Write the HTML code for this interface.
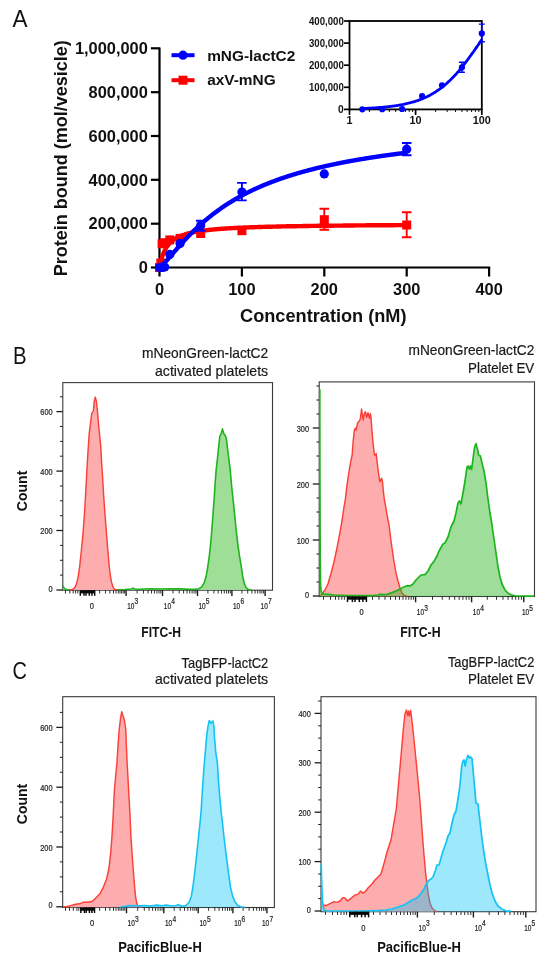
<!DOCTYPE html>
<html lang="en"><head><meta charset="utf-8"><title>Figure</title>
<style>html,body{margin:0;padding:0;background:#fff}body{width:550px;height:966px;overflow:hidden}svg{display:block}text{font-family:"Liberation Sans", sans-serif}</style>
</head><body>
<svg width="550" height="966" viewBox="0 0 550 966">
<rect width="550" height="966" fill="#fff"/>
<g id="panelA">
<text x="12.4" y="27" font-size="23" fill="#111" textLength="15" lengthAdjust="spacingAndGlyphs">A</text>
<path d="M159.5 47.4V268.5M158.5 267.5H490.2" stroke="#000" stroke-width="2.2" fill="none"/>
<path d="M150.9 48.3H159.5" stroke="#000" stroke-width="2.2"/>
<text x="147.8" y="54" font-size="16.4" font-weight="bold" text-anchor="end" fill="#111">1,000,000</text>
<path d="M150.9 92.2H159.5" stroke="#000" stroke-width="2.2"/>
<text x="147.8" y="97.9" font-size="16.4" font-weight="bold" text-anchor="end" fill="#111">800,000</text>
<path d="M150.9 136H159.5" stroke="#000" stroke-width="2.2"/>
<text x="147.8" y="141.7" font-size="16.4" font-weight="bold" text-anchor="end" fill="#111">600,000</text>
<path d="M150.9 179.8H159.5" stroke="#000" stroke-width="2.2"/>
<text x="147.8" y="185.5" font-size="16.4" font-weight="bold" text-anchor="end" fill="#111">400,000</text>
<path d="M150.9 223.7H159.5" stroke="#000" stroke-width="2.2"/>
<text x="147.8" y="229.4" font-size="16.4" font-weight="bold" text-anchor="end" fill="#111">200,000</text>
<path d="M150.9 267.5H159.5" stroke="#000" stroke-width="2.2"/>
<text x="147.8" y="273.2" font-size="16.4" font-weight="bold" text-anchor="end" fill="#111">0</text>
<path d="M159.5 267.5V276.5" stroke="#000" stroke-width="2.2"/>
<text x="159.5" y="295" font-size="16.4" font-weight="bold" text-anchor="middle" fill="#111">0</text>
<path d="M241.9 267.5V276.5" stroke="#000" stroke-width="2.2"/>
<text x="241.9" y="295" font-size="16.4" font-weight="bold" text-anchor="middle" fill="#111">100</text>
<path d="M324.3 267.5V276.5" stroke="#000" stroke-width="2.2"/>
<text x="324.3" y="295" font-size="16.4" font-weight="bold" text-anchor="middle" fill="#111">200</text>
<path d="M406.7 267.5V276.5" stroke="#000" stroke-width="2.2"/>
<text x="406.7" y="295" font-size="16.4" font-weight="bold" text-anchor="middle" fill="#111">300</text>
<path d="M489.1 267.5V276.5" stroke="#000" stroke-width="2.2"/>
<text x="489.1" y="295" font-size="16.4" font-weight="bold" text-anchor="middle" fill="#111">400</text>
<text x="323.3" y="321.6" font-size="18.3" font-weight="bold" text-anchor="middle" fill="#111" textLength="166.5" lengthAdjust="spacingAndGlyphs">Concentration (nM)</text>
<text transform="translate(67.2 158.3) rotate(-90)" font-size="18.8" font-weight="bold" text-anchor="middle" fill="#111" textLength="236" lengthAdjust="spacingAndGlyphs">Protein bound (mol/vesicle)</text>
<polyline points="159.5,267.5 159.9,265.4 160.3,263.5 160.7,261.8 161.1,260.2 161.6,258.7 162,257.4 162.4,256.1 162.8,255 163.2,253.9 163.6,252.9 164,251.9 164.4,251.1 164.9,250.2 165.3,249.5 165.7,248.7 166.1,248 166.5,247.4 166.9,246.7 167.3,246.1 167.7,245.6 168.2,245.1 168.6,244.5 169,244.1 169.4,243.6 169.8,243.2 170.2,242.7 170.6,242.3 171,241.9 171.4,241.6 171.9,241.2 172.3,240.9 172.7,240.5 173.1,240.2 173.5,239.9 173.9,239.6 174.3,239.3 174.7,239 175.2,238.8 175.6,238.5 176,238.3 176.4,238 176.8,237.8 177.2,237.6 177.6,237.4 178,237.2 178.5,237 178.9,236.8 179.3,236.6 179.7,236.4 180.1,236.2 180.5,236 180.9,235.8 181.3,235.7 181.7,235.5 182.2,235.4 182.6,235.2 183,235.1 183.4,234.9 183.8,234.8 184.2,234.6 184.6,234.5 185,234.4 185.5,234.2 185.9,234.1 186.3,234 186.7,233.9 187.1,233.7 187.5,233.6 187.9,233.5 188.3,233.4 188.8,233.3 189.2,233.2 189.6,233.1 190,233 190.4,232.9 190.8,232.8 191.2,232.7 191.6,232.6 192,232.5 192.5,232.4 192.9,232.3 193.3,232.3 193.7,232.2 194.1,232.1 194.5,232 194.9,231.9 195.3,231.9 195.8,231.8 196.2,231.7 196.6,231.6 197,231.6 197.4,231.5 197.8,231.4 198.2,231.4 198.6,231.3 199.1,231.2 199.5,231.2 199.9,231.1 200.3,231 200.7,231 201.1,230.9 201.5,230.9 201.9,230.8 202.3,230.7 202.8,230.7 203.2,230.6 203.6,230.6 204,230.5 204.4,230.5 204.8,230.4 205.2,230.4 205.6,230.3 206.1,230.3 206.5,230.2 206.9,230.2 207.3,230.1 207.7,230.1 208.1,230 208.5,230 208.9,229.9 209.4,229.9 209.8,229.8 210.2,229.8 210.6,229.8 211,229.7 211.4,229.7 211.8,229.6 212.2,229.6 212.6,229.6 213.1,229.5 213.5,229.5 213.9,229.4 214.3,229.4 214.7,229.4 215.1,229.3 215.5,229.3 215.9,229.3 216.4,229.2 216.8,229.2 217.2,229.1 217.6,229.1 218,229.1 218.4,229 218.8,229 219.2,229 219.7,229 220.1,228.9 220.5,228.9 220.9,228.9 221.3,228.8 221.7,228.8 222.1,228.8 222.5,228.7 222.9,228.7 223.4,228.7 223.8,228.7 224.2,228.6 224.6,228.6 225,228.6 225.4,228.5 225.8,228.5 226.2,228.5 226.7,228.5 227.1,228.4 227.5,228.4 227.9,228.4 228.3,228.4 228.7,228.3 229.1,228.3 229.5,228.3 230,228.3 230.4,228.2 230.8,228.2 231.2,228.2 231.6,228.2 232,228.1 232.4,228.1 232.8,228.1 233.2,228.1 233.7,228.1 234.1,228 234.5,228 234.9,228 235.3,228 235.7,227.9 236.1,227.9 236.5,227.9 237,227.9 237.4,227.9 237.8,227.8 238.2,227.8 238.6,227.8 239,227.8 239.4,227.8 239.8,227.7 240.3,227.7 240.7,227.7 241.1,227.7 241.5,227.7 241.9,227.7 242.3,227.6 242.7,227.6 243.1,227.6 243.5,227.6 244,227.6 244.4,227.5 244.8,227.5 245.2,227.5 245.6,227.5 246,227.5 246.4,227.5 246.8,227.4 247.3,227.4 247.7,227.4 248.1,227.4 248.5,227.4 248.9,227.4 249.3,227.4 249.7,227.3 250.1,227.3 250.6,227.3 251,227.3 251.4,227.3 251.8,227.3 252.2,227.2 252.6,227.2 253,227.2 253.4,227.2 253.8,227.2 254.3,227.2 254.7,227.2 255.1,227.1 255.5,227.1 255.9,227.1 256.3,227.1 256.7,227.1 257.1,227.1 257.6,227.1 258,227.1 258.4,227 258.8,227 259.2,227 259.6,227 260,227 260.4,227 260.9,227 261.3,227 261.7,226.9 262.1,226.9 262.5,226.9 262.9,226.9 263.3,226.9 263.7,226.9 264.1,226.9 264.6,226.9 265,226.8 265.4,226.8 265.8,226.8 266.2,226.8 266.6,226.8 267,226.8 267.4,226.8 267.9,226.8 268.3,226.8 268.7,226.7 269.1,226.7 269.5,226.7 269.9,226.7 270.3,226.7 270.7,226.7 271.2,226.7 271.6,226.7 272,226.7 272.4,226.7 272.8,226.6 273.2,226.6 273.6,226.6 274,226.6 274.4,226.6 274.9,226.6 275.3,226.6 275.7,226.6 276.1,226.6 276.5,226.6 276.9,226.5 277.3,226.5 277.7,226.5 278.2,226.5 278.6,226.5 279,226.5 279.4,226.5 279.8,226.5 280.2,226.5 280.6,226.5 281,226.5 281.5,226.4 281.9,226.4 282.3,226.4 282.7,226.4 283.1,226.4 283.5,226.4 283.9,226.4 284.3,226.4 284.7,226.4 285.2,226.4 285.6,226.4 286,226.4 286.4,226.3 286.8,226.3 287.2,226.3 287.6,226.3 288,226.3 288.5,226.3 288.9,226.3 289.3,226.3 289.7,226.3 290.1,226.3 290.5,226.3 290.9,226.3 291.3,226.2 291.8,226.2 292.2,226.2 292.6,226.2 293,226.2 293.4,226.2 293.8,226.2 294.2,226.2 294.6,226.2 295,226.2 295.5,226.2 295.9,226.2 296.3,226.2 296.7,226.2 297.1,226.1 297.5,226.1 297.9,226.1 298.3,226.1 298.8,226.1 299.2,226.1 299.6,226.1 300,226.1 300.4,226.1 300.8,226.1 301.2,226.1 301.6,226.1 302.1,226.1 302.5,226.1 302.9,226.1 303.3,226 303.7,226 304.1,226 304.5,226 304.9,226 305.3,226 305.8,226 306.2,226 306.6,226 307,226 307.4,226 307.8,226 308.2,226 308.6,226 309.1,226 309.5,226 309.9,225.9 310.3,225.9 310.7,225.9 311.1,225.9 311.5,225.9 311.9,225.9 312.4,225.9 312.8,225.9 313.2,225.9 313.6,225.9 314,225.9 314.4,225.9 314.8,225.9 315.2,225.9 315.6,225.9 316.1,225.9 316.5,225.9 316.9,225.9 317.3,225.8 317.7,225.8 318.1,225.8 318.5,225.8 318.9,225.8 319.4,225.8 319.8,225.8 320.2,225.8 320.6,225.8 321,225.8 321.4,225.8 321.8,225.8 322.2,225.8 322.7,225.8 323.1,225.8 323.5,225.8 323.9,225.8 324.3,225.8 324.7,225.8 325.1,225.7 325.5,225.7 325.9,225.7 326.4,225.7 326.8,225.7 327.2,225.7 327.6,225.7 328,225.7 328.4,225.7 328.8,225.7 329.2,225.7 329.7,225.7 330.1,225.7 330.5,225.7 330.9,225.7 331.3,225.7 331.7,225.7 332.1,225.7 332.5,225.7 333,225.7 333.4,225.7 333.8,225.6 334.2,225.6 334.6,225.6 335,225.6 335.4,225.6 335.8,225.6 336.2,225.6 336.7,225.6 337.1,225.6 337.5,225.6 337.9,225.6 338.3,225.6 338.7,225.6 339.1,225.6 339.5,225.6 340,225.6 340.4,225.6 340.8,225.6 341.2,225.6 341.6,225.6 342,225.6 342.4,225.6 342.8,225.6 343.3,225.6 343.7,225.5 344.1,225.5 344.5,225.5 344.9,225.5 345.3,225.5 345.7,225.5 346.1,225.5 346.5,225.5 347,225.5 347.4,225.5 347.8,225.5 348.2,225.5 348.6,225.5 349,225.5 349.4,225.5 349.8,225.5 350.3,225.5 350.7,225.5 351.1,225.5 351.5,225.5 351.9,225.5 352.3,225.5 352.7,225.5 353.1,225.5 353.6,225.5 354,225.5 354.4,225.4 354.8,225.4 355.2,225.4 355.6,225.4 356,225.4 356.4,225.4 356.8,225.4 357.3,225.4 357.7,225.4 358.1,225.4 358.5,225.4 358.9,225.4 359.3,225.4 359.7,225.4 360.1,225.4 360.6,225.4 361,225.4 361.4,225.4 361.8,225.4 362.2,225.4 362.6,225.4 363,225.4 363.4,225.4 363.9,225.4 364.3,225.4 364.7,225.4 365.1,225.4 365.5,225.4 365.9,225.4 366.3,225.3 366.7,225.3 367.1,225.3 367.6,225.3 368,225.3 368.4,225.3 368.8,225.3 369.2,225.3 369.6,225.3 370,225.3 370.4,225.3 370.9,225.3 371.3,225.3 371.7,225.3 372.1,225.3 372.5,225.3 372.9,225.3 373.3,225.3 373.7,225.3 374.2,225.3 374.6,225.3 375,225.3 375.4,225.3 375.8,225.3 376.2,225.3 376.6,225.3 377,225.3 377.4,225.3 377.9,225.3 378.3,225.3 378.7,225.3 379.1,225.3 379.5,225.3 379.9,225.2 380.3,225.2 380.7,225.2 381.2,225.2 381.6,225.2 382,225.2 382.4,225.2 382.8,225.2 383.2,225.2 383.6,225.2 384,225.2 384.5,225.2 384.9,225.2 385.3,225.2 385.7,225.2 386.1,225.2 386.5,225.2 386.9,225.2 387.3,225.2 387.7,225.2 388.2,225.2 388.6,225.2 389,225.2 389.4,225.2 389.8,225.2 390.2,225.2 390.6,225.2 391,225.2 391.5,225.2 391.9,225.2 392.3,225.2 392.7,225.2 393.1,225.2 393.5,225.2 393.9,225.2 394.3,225.2 394.8,225.2 395.2,225.2 395.6,225.1 396,225.1 396.4,225.1 396.8,225.1 397.2,225.1 397.6,225.1 398,225.1 398.5,225.1 398.9,225.1 399.3,225.1 399.7,225.1 400.1,225.1 400.5,225.1 400.9,225.1 401.3,225.1 401.8,225.1 402.2,225.1 402.6,225.1 403,225.1 403.4,225.1 403.8,225.1 404.2,225.1 404.6,225.1 405.1,225.1 405.5,225.1 405.9,225.1 406.3,225.1 406.7,225.1" fill="none" stroke="#ff0000" stroke-width="4.4" stroke-linejoin="round"/>
<rect x="155" y="263" width="9" height="9" fill="#ff0000"/>
<rect x="156.3" y="258.6" width="9" height="9" fill="#ff0000"/>
<rect x="157.6" y="239.3" width="9" height="9" fill="#ff0000"/>
<rect x="160.2" y="238.2" width="9" height="9" fill="#ff0000"/>
<rect x="165.3" y="235.4" width="9" height="9" fill="#ff0000"/>
<rect x="175.6" y="233.9" width="9" height="9" fill="#ff0000"/>
<rect x="196.2" y="229" width="9" height="9" fill="#ff0000"/>
<rect x="237.4" y="226.2" width="9" height="9" fill="#ff0000"/>
<path d="M324.3 208.8V229.8M319.5 208.8h9.6M319.5 229.8h9.6" stroke="#ff0000" stroke-width="1.9" fill="none"/>
<rect x="319.8" y="215.2" width="9" height="9" fill="#ff0000"/>
<path d="M406.7 212.3V237.3M401.9 212.3h9.6M401.9 237.3h9.6" stroke="#ff0000" stroke-width="1.9" fill="none"/>
<rect x="402.2" y="220.5" width="9" height="9" fill="#ff0000"/>
<polyline points="159.5,267.5 159.9,267.3 160.3,267 160.7,266.6 161.1,266.3 161.6,265.9 162,265.5 162.4,265.1 162.8,264.7 163.2,264.3 163.6,263.9 164,263.4 164.4,263 164.9,262.6 165.3,262.1 165.7,261.7 166.1,261.2 166.5,260.7 166.9,260.3 167.3,259.8 167.7,259.3 168.2,258.9 168.6,258.4 169,257.9 169.4,257.5 169.8,257 170.2,256.5 170.6,256 171,255.5 171.4,255.1 171.9,254.6 172.3,254.1 172.7,253.6 173.1,253.2 173.5,252.7 173.9,252.2 174.3,251.7 174.7,251.3 175.2,250.8 175.6,250.3 176,249.8 176.4,249.4 176.8,248.9 177.2,248.4 177.6,248 178,247.5 178.5,247 178.9,246.6 179.3,246.1 179.7,245.6 180.1,245.2 180.5,244.7 180.9,244.3 181.3,243.8 181.7,243.4 182.2,242.9 182.6,242.5 183,242 183.4,241.6 183.8,241.1 184.2,240.7 184.6,240.2 185,239.8 185.5,239.3 185.9,238.9 186.3,238.5 186.7,238 187.1,237.6 187.5,237.2 187.9,236.7 188.3,236.3 188.8,235.9 189.2,235.5 189.6,235.1 190,234.6 190.4,234.2 190.8,233.8 191.2,233.4 191.6,233 192,232.6 192.5,232.2 192.9,231.8 193.3,231.3 193.7,230.9 194.1,230.5 194.5,230.1 194.9,229.7 195.3,229.4 195.8,229 196.2,228.6 196.6,228.2 197,227.8 197.4,227.4 197.8,227 198.2,226.6 198.6,226.3 199.1,225.9 199.5,225.5 199.9,225.1 200.3,224.8 200.7,224.4 201.1,224 201.5,223.7 201.9,223.3 202.3,222.9 202.8,222.6 203.2,222.2 203.6,221.9 204,221.5 204.4,221.2 204.8,220.8 205.2,220.4 205.6,220.1 206.1,219.8 206.5,219.4 206.9,219.1 207.3,218.7 207.7,218.4 208.1,218 208.5,217.7 208.9,217.4 209.4,217 209.8,216.7 210.2,216.4 210.6,216.1 211,215.7 211.4,215.4 211.8,215.1 212.2,214.8 212.6,214.4 213.1,214.1 213.5,213.8 213.9,213.5 214.3,213.2 214.7,212.9 215.1,212.6 215.5,212.3 215.9,212 216.4,211.7 216.8,211.4 217.2,211 217.6,210.7 218,210.5 218.4,210.2 218.8,209.9 219.2,209.6 219.7,209.3 220.1,209 220.5,208.7 220.9,208.4 221.3,208.1 221.7,207.8 222.1,207.6 222.5,207.3 222.9,207 223.4,206.7 223.8,206.4 224.2,206.2 224.6,205.9 225,205.6 225.4,205.3 225.8,205.1 226.2,204.8 226.7,204.5 227.1,204.3 227.5,204 227.9,203.7 228.3,203.5 228.7,203.2 229.1,203 229.5,202.7 230,202.4 230.4,202.2 230.8,201.9 231.2,201.7 231.6,201.4 232,201.2 232.4,200.9 232.8,200.7 233.2,200.4 233.7,200.2 234.1,199.9 234.5,199.7 234.9,199.5 235.3,199.2 235.7,199 236.1,198.7 236.5,198.5 237,198.3 237.4,198 237.8,197.8 238.2,197.6 238.6,197.3 239,197.1 239.4,196.9 239.8,196.7 240.3,196.4 240.7,196.2 241.1,196 241.5,195.8 241.9,195.5 242.3,195.3 242.7,195.1 243.1,194.9 243.5,194.7 244,194.4 244.4,194.2 244.8,194 245.2,193.8 245.6,193.6 246,193.4 246.4,193.2 246.8,193 247.3,192.7 247.7,192.5 248.1,192.3 248.5,192.1 248.9,191.9 249.3,191.7 249.7,191.5 250.1,191.3 250.6,191.1 251,190.9 251.4,190.7 251.8,190.5 252.2,190.3 252.6,190.1 253,189.9 253.4,189.7 253.8,189.5 254.3,189.4 254.7,189.2 255.1,189 255.5,188.8 255.9,188.6 256.3,188.4 256.7,188.2 257.1,188 257.6,187.8 258,187.7 258.4,187.5 258.8,187.3 259.2,187.1 259.6,186.9 260,186.8 260.4,186.6 260.9,186.4 261.3,186.2 261.7,186 262.1,185.9 262.5,185.7 262.9,185.5 263.3,185.3 263.7,185.2 264.1,185 264.6,184.8 265,184.7 265.4,184.5 265.8,184.3 266.2,184.2 266.6,184 267,183.8 267.4,183.7 267.9,183.5 268.3,183.3 268.7,183.2 269.1,183 269.5,182.8 269.9,182.7 270.3,182.5 270.7,182.4 271.2,182.2 271.6,182 272,181.9 272.4,181.7 272.8,181.6 273.2,181.4 273.6,181.3 274,181.1 274.4,181 274.9,180.8 275.3,180.6 275.7,180.5 276.1,180.3 276.5,180.2 276.9,180 277.3,179.9 277.7,179.7 278.2,179.6 278.6,179.5 279,179.3 279.4,179.2 279.8,179 280.2,178.9 280.6,178.7 281,178.6 281.5,178.4 281.9,178.3 282.3,178.2 282.7,178 283.1,177.9 283.5,177.7 283.9,177.6 284.3,177.5 284.7,177.3 285.2,177.2 285.6,177.1 286,176.9 286.4,176.8 286.8,176.6 287.2,176.5 287.6,176.4 288,176.2 288.5,176.1 288.9,176 289.3,175.8 289.7,175.7 290.1,175.6 290.5,175.5 290.9,175.3 291.3,175.2 291.8,175.1 292.2,174.9 292.6,174.8 293,174.7 293.4,174.6 293.8,174.4 294.2,174.3 294.6,174.2 295,174.1 295.5,173.9 295.9,173.8 296.3,173.7 296.7,173.6 297.1,173.4 297.5,173.3 297.9,173.2 298.3,173.1 298.8,173 299.2,172.8 299.6,172.7 300,172.6 300.4,172.5 300.8,172.4 301.2,172.3 301.6,172.1 302.1,172 302.5,171.9 302.9,171.8 303.3,171.7 303.7,171.6 304.1,171.5 304.5,171.3 304.9,171.2 305.3,171.1 305.8,171 306.2,170.9 306.6,170.8 307,170.7 307.4,170.6 307.8,170.5 308.2,170.3 308.6,170.2 309.1,170.1 309.5,170 309.9,169.9 310.3,169.8 310.7,169.7 311.1,169.6 311.5,169.5 311.9,169.4 312.4,169.3 312.8,169.2 313.2,169.1 313.6,169 314,168.9 314.4,168.8 314.8,168.6 315.2,168.5 315.6,168.4 316.1,168.3 316.5,168.2 316.9,168.1 317.3,168 317.7,167.9 318.1,167.8 318.5,167.7 318.9,167.6 319.4,167.5 319.8,167.4 320.2,167.3 320.6,167.3 321,167.2 321.4,167.1 321.8,167 322.2,166.9 322.7,166.8 323.1,166.7 323.5,166.6 323.9,166.5 324.3,166.4 324.7,166.3 325.1,166.2 325.5,166.1 325.9,166 326.4,165.9 326.8,165.8 327.2,165.7 327.6,165.6 328,165.6 328.4,165.5 328.8,165.4 329.2,165.3 329.7,165.2 330.1,165.1 330.5,165 330.9,164.9 331.3,164.8 331.7,164.8 332.1,164.7 332.5,164.6 333,164.5 333.4,164.4 333.8,164.3 334.2,164.2 334.6,164.1 335,164.1 335.4,164 335.8,163.9 336.2,163.8 336.7,163.7 337.1,163.6 337.5,163.5 337.9,163.5 338.3,163.4 338.7,163.3 339.1,163.2 339.5,163.1 340,163 340.4,163 340.8,162.9 341.2,162.8 341.6,162.7 342,162.6 342.4,162.6 342.8,162.5 343.3,162.4 343.7,162.3 344.1,162.2 344.5,162.2 344.9,162.1 345.3,162 345.7,161.9 346.1,161.8 346.5,161.8 347,161.7 347.4,161.6 347.8,161.5 348.2,161.5 348.6,161.4 349,161.3 349.4,161.2 349.8,161.2 350.3,161.1 350.7,161 351.1,160.9 351.5,160.9 351.9,160.8 352.3,160.7 352.7,160.6 353.1,160.6 353.6,160.5 354,160.4 354.4,160.3 354.8,160.3 355.2,160.2 355.6,160.1 356,160.1 356.4,160 356.8,159.9 357.3,159.8 357.7,159.8 358.1,159.7 358.5,159.6 358.9,159.6 359.3,159.5 359.7,159.4 360.1,159.3 360.6,159.3 361,159.2 361.4,159.1 361.8,159.1 362.2,159 362.6,158.9 363,158.9 363.4,158.8 363.9,158.7 364.3,158.7 364.7,158.6 365.1,158.5 365.5,158.5 365.9,158.4 366.3,158.3 366.7,158.3 367.1,158.2 367.6,158.1 368,158.1 368.4,158 368.8,157.9 369.2,157.9 369.6,157.8 370,157.7 370.4,157.7 370.9,157.6 371.3,157.5 371.7,157.5 372.1,157.4 372.5,157.4 372.9,157.3 373.3,157.2 373.7,157.2 374.2,157.1 374.6,157 375,157 375.4,156.9 375.8,156.9 376.2,156.8 376.6,156.7 377,156.7 377.4,156.6 377.9,156.5 378.3,156.5 378.7,156.4 379.1,156.4 379.5,156.3 379.9,156.2 380.3,156.2 380.7,156.1 381.2,156.1 381.6,156 382,155.9 382.4,155.9 382.8,155.8 383.2,155.8 383.6,155.7 384,155.7 384.5,155.6 384.9,155.5 385.3,155.5 385.7,155.4 386.1,155.4 386.5,155.3 386.9,155.3 387.3,155.2 387.7,155.1 388.2,155.1 388.6,155 389,155 389.4,154.9 389.8,154.9 390.2,154.8 390.6,154.7 391,154.7 391.5,154.6 391.9,154.6 392.3,154.5 392.7,154.5 393.1,154.4 393.5,154.4 393.9,154.3 394.3,154.3 394.8,154.2 395.2,154.2 395.6,154.1 396,154 396.4,154 396.8,153.9 397.2,153.9 397.6,153.8 398,153.8 398.5,153.7 398.9,153.7 399.3,153.6 399.7,153.6 400.1,153.5 400.5,153.5 400.9,153.4 401.3,153.4 401.8,153.3 402.2,153.3 402.6,153.2 403,153.2 403.4,153.1 403.8,153.1 404.2,153 404.6,153 405.1,152.9 405.5,152.9 405.9,152.8 406.3,152.8 406.7,152.7" fill="none" stroke="#0000ff" stroke-width="4.4" stroke-linejoin="round"/>
<circle cx="159.5" cy="267.5" r="4.6" fill="#0000ff"/>
<circle cx="160.8" cy="267.4" r="4.6" fill="#0000ff"/>
<circle cx="162.1" cy="267.3" r="4.6" fill="#0000ff"/>
<circle cx="164.7" cy="267.1" r="4.6" fill="#0000ff"/>
<circle cx="169.8" cy="254.4" r="4.6" fill="#0000ff"/>
<circle cx="180.1" cy="243.6" r="4.6" fill="#0000ff"/>
<path d="M200.7 220.8V230.7M195.9 220.8h9.6M195.9 230.7h9.6" stroke="#0000ff" stroke-width="1.9" fill="none"/>
<circle cx="200.7" cy="225.6" r="4.6" fill="#0000ff"/>
<path d="M241.9 182.9V200.4M237.1 182.9h9.6M237.1 200.4h9.6" stroke="#0000ff" stroke-width="1.9" fill="none"/>
<circle cx="241.9" cy="192.1" r="4.6" fill="#0000ff"/>
<circle cx="324.3" cy="173.9" r="4.6" fill="#0000ff"/>
<path d="M406.7 143V155.3M401.9 143h9.6M401.9 155.3h9.6" stroke="#0000ff" stroke-width="1.9" fill="none"/>
<circle cx="406.7" cy="149.2" r="4.6" fill="#0000ff"/>
<path d="M171.5 55.2H194.5" stroke="#0000ff" stroke-width="4"/><circle cx="183" cy="55.2" r="4.6" fill="#0000ff"/>
<path d="M171.5 80.2H194.5" stroke="#ff0000" stroke-width="4"/><rect x="178.5" y="75.7" width="9" height="9" fill="#ff0000"/>
<text x="207.2" y="60.6" font-size="15.4" font-weight="bold" fill="#111">mNG-lactC2</text>
<text x="207.2" y="85.4" font-size="15.4" font-weight="bold" fill="#111">axV-mNG</text>
<rect x="349.5" y="21" width="132.3" height="88.4" fill="none" stroke="#000" stroke-width="1.8"/>
<path d="M344 21H349.5" stroke="#000" stroke-width="1.7"/>
<text x="343.8" y="24.8" font-size="10.5" font-weight="bold" text-anchor="end" fill="#111" textLength="34.8" lengthAdjust="spacingAndGlyphs">400,000</text>
<path d="M344 43.1H349.5" stroke="#000" stroke-width="1.7"/>
<text x="343.8" y="46.9" font-size="10.5" font-weight="bold" text-anchor="end" fill="#111" textLength="34.8" lengthAdjust="spacingAndGlyphs">300,000</text>
<path d="M344 65.2H349.5" stroke="#000" stroke-width="1.7"/>
<text x="343.8" y="69" font-size="10.5" font-weight="bold" text-anchor="end" fill="#111" textLength="34.8" lengthAdjust="spacingAndGlyphs">200,000</text>
<path d="M344 87.3H349.5" stroke="#000" stroke-width="1.7"/>
<text x="343.8" y="91.1" font-size="10.5" font-weight="bold" text-anchor="end" fill="#111" textLength="34.8" lengthAdjust="spacingAndGlyphs">100,000</text>
<path d="M344 109.4H349.5" stroke="#000" stroke-width="1.7"/>
<text x="343.8" y="113.2" font-size="10.5" font-weight="bold" text-anchor="end" fill="#111" textLength="5.7" lengthAdjust="spacingAndGlyphs">0</text>
<path d="M349.5 109.4V114.9" stroke="#000" stroke-width="1.7"/>
<text x="349.5" y="123.9" font-size="10.8" font-weight="bold" text-anchor="middle" fill="#111">1</text>
<path d="M369.4 109.4V111.9" stroke="#000" stroke-width="1"/>
<path d="M381.1 109.4V111.9" stroke="#000" stroke-width="1"/>
<path d="M389.3 109.4V111.9" stroke="#000" stroke-width="1"/>
<path d="M395.7 109.4V111.9" stroke="#000" stroke-width="1"/>
<path d="M401 109.4V111.9" stroke="#000" stroke-width="1"/>
<path d="M405.4 109.4V111.9" stroke="#000" stroke-width="1"/>
<path d="M409.2 109.4V111.9" stroke="#000" stroke-width="1"/>
<path d="M412.6 109.4V111.9" stroke="#000" stroke-width="1"/>
<path d="M415.6 109.4V114.9" stroke="#000" stroke-width="1.7"/>
<text x="415.6" y="123.9" font-size="10.8" font-weight="bold" text-anchor="middle" fill="#111">10</text>
<path d="M435.6 109.4V111.9" stroke="#000" stroke-width="1"/>
<path d="M447.2 109.4V111.9" stroke="#000" stroke-width="1"/>
<path d="M455.5 109.4V111.9" stroke="#000" stroke-width="1"/>
<path d="M461.9 109.4V111.9" stroke="#000" stroke-width="1"/>
<path d="M467.1 109.4V111.9" stroke="#000" stroke-width="1"/>
<path d="M471.6 109.4V111.9" stroke="#000" stroke-width="1"/>
<path d="M475.4 109.4V111.9" stroke="#000" stroke-width="1"/>
<path d="M478.8 109.4V111.9" stroke="#000" stroke-width="1"/>
<path d="M481.8 109.4V114.9" stroke="#000" stroke-width="1.7"/>
<text x="481.8" y="123.9" font-size="10.8" font-weight="bold" text-anchor="middle" fill="#111">100</text>
<polyline points="361.1,108.5 362.2,108.5 363.2,108.4 364.2,108.4 365.2,108.4 366.2,108.3 367.2,108.3 368.2,108.2 369.2,108.2 370.2,108.1 371.2,108.1 372.2,108 373.2,107.9 374.2,107.9 375.2,107.8 376.2,107.7 377.2,107.7 378.2,107.6 379.2,107.5 380.3,107.4 381.3,107.4 382.3,107.3 383.3,107.2 384.3,107.1 385.3,107 386.3,106.9 387.3,106.8 388.3,106.7 389.3,106.6 390.3,106.4 391.3,106.3 392.3,106.2 393.3,106.1 394.3,105.9 395.3,105.8 396.3,105.6 397.3,105.5 398.3,105.3 399.4,105.1 400.4,104.9 401.4,104.8 402.4,104.6 403.4,104.4 404.4,104.2 405.4,103.9 406.4,103.7 407.4,103.5 408.4,103.2 409.4,103 410.4,102.7 411.4,102.5 412.4,102.2 413.4,101.9 414.4,101.6 415.4,101.3 416.4,100.9 417.5,100.6 418.5,100.2 419.5,99.9 420.5,99.5 421.5,99.1 422.5,98.7 423.5,98.3 424.5,97.8 425.5,97.4 426.5,96.9 427.5,96.4 428.5,95.9 429.5,95.4 430.5,94.9 431.5,94.3 432.5,93.7 433.5,93.1 434.5,92.5 435.6,91.9 436.6,91.2 437.6,90.5 438.6,89.8 439.6,89.1 440.6,88.4 441.6,87.6 442.6,86.8 443.6,86 444.6,85.2 445.6,84.4 446.6,83.5 447.6,82.6 448.6,81.6 449.6,80.7 450.6,79.7 451.6,78.7 452.6,77.7 453.6,76.7 454.7,75.6 455.7,74.5 456.7,73.4 457.7,72.2 458.7,71.1 459.7,69.9 460.7,68.7 461.7,67.5 462.7,66.2 463.7,64.9 464.7,63.7 465.7,62.3 466.7,61 467.7,59.7 468.7,58.3 469.7,56.9 470.7,55.5 471.7,54.1 472.8,52.7 473.8,51.3 474.8,49.8 475.8,48.4 476.8,46.9 477.8,45.5 478.8,44 479.8,42.5 480.8,41 481.8,39.5" fill="none" stroke="#0000ff" stroke-width="2.8" stroke-linejoin="round"/>
<circle cx="362.3" cy="109.3" r="3.1" fill="#0000ff"/>
<circle cx="382.2" cy="109.2" r="3.1" fill="#0000ff"/>
<circle cx="402.1" cy="109" r="3.1" fill="#0000ff"/>
<circle cx="422.1" cy="96.1" r="3.1" fill="#0000ff"/>
<circle cx="442" cy="85.3" r="3.1" fill="#0000ff"/>
<path d="M461.9 62.3V72.3M458.9 62.3h6M458.9 72.3h6" stroke="#0000ff" stroke-width="1.4" fill="none"/>
<circle cx="461.9" cy="67.4" r="3.1" fill="#0000ff"/>
<path d="M481.8 24.1V41.8M478.8 24.1h6M478.8 41.8h6" stroke="#0000ff" stroke-width="1.4" fill="none"/>
<circle cx="481.8" cy="33.4" r="3.1" fill="#0000ff"/>
</g>
<g id="panelBL">
<rect x="62.8" y="382.6" width="209.7" height="207.6" fill="none" stroke="#3a3a3a" stroke-width="1.1"/>
<path d="M70 589.8 L70 590.2 L71 590 L72.6 589.4 L74.8 587.6 L76.5 583.8 L78.1 577.3 L79.7 566.4 L81.4 550 L83 533.6 L84.6 511.8 L85.7 493 L86.8 471.8 L88.1 450 L89.2 433.6 L90.6 422.7 L91.7 413.7 L92.6 412 L93.5 410.5 L94.2 401.5 L95.3 397.1 L96.4 401.2 L97.5 411.8 L98.6 424.9 L99.9 438 L100.8 446.7 L101.5 460.9 L102.6 477.3 L103.5 493 L104.8 511.8 L106.5 533.6 L107.8 550 L109.2 566.4 L110.3 575.1 L111.4 581.6 L113 587.1 L114.6 589.2 L116.8 590 L118.5 590.2 L118.5 589.8Z" fill="#fdadad" fill-opacity="1.0" stroke="none"/>
<path d="M70 590.2 L71 590 L72.6 589.4 L74.8 587.6 L76.5 583.8 L78.1 577.3 L79.7 566.4 L81.4 550 L83 533.6 L84.6 511.8 L85.7 493 L86.8 471.8 L88.1 450 L89.2 433.6 L90.6 422.7 L91.7 413.7 L92.6 412 L93.5 410.5 L94.2 401.5 L95.3 397.1 L96.4 401.2 L97.5 411.8 L98.6 424.9 L99.9 438 L100.8 446.7 L101.5 460.9 L102.6 477.3 L103.5 493 L104.8 511.8 L106.5 533.6 L107.8 550 L109.2 566.4 L110.3 575.1 L111.4 581.6 L113 587.1 L114.6 589.2 L116.8 590 L118.5 590.2" fill="none" stroke="#fa4038" stroke-width="1.45" stroke-linejoin="round"/>
<path d="M62.9 589.8 L62.9 585.8 L63.6 587.6 L64.8 589 L67 589.5 L70 589.8 L70 589.8Z" fill="#9fde97" fill-opacity="1.0" stroke="none"/>
<path d="M62.9 585.8 L63.6 587.6 L64.8 589 L67 589.5 L70 589.8" fill="none" stroke="#1eb41e" stroke-width="1.6" stroke-linejoin="round"/>
<path d="M117 589.8 L117 589.8 L125 589.5 L131 589 L133 588.2 L135 589 L140 589.3 L150 588.8 L160 589 L170 588.8 L180 588.9 L190 589.4 L194.7 589.4 L198.9 588.7 L201.8 586.9 L204.2 582.7 L206 576.8 L207.5 568.6 L208.9 559.1 L210.3 547.3 L211.9 529.6 L213 514.2 L214.2 498.5 L215.1 483.8 L216.2 469.6 L217.8 455.5 L219 443.6 L219.8 436.5 L221.3 433 L222.5 428.9 L223.7 433.6 L225.5 436 L226.4 438.9 L227.2 446 L228.4 455.5 L230.2 469.6 L231.4 483.8 L232.8 496.8 L234.5 513 L236.1 529.6 L237.9 544.9 L239.6 556.7 L241.4 567.4 L242.6 575.7 L244.1 582.7 L245.8 587.2 L247.9 589.4 L250.3 590 L252 590.2 L252 589.8Z" fill="#9fde97" fill-opacity="1.0" stroke="none"/>
<path d="M117 589.8 L125 589.5 L131 589 L133 588.2 L135 589 L140 589.3 L150 588.8 L160 589 L170 588.8 L180 588.9 L190 589.4 L194.7 589.4 L198.9 588.7 L201.8 586.9 L204.2 582.7 L206 576.8 L207.5 568.6 L208.9 559.1 L210.3 547.3 L211.9 529.6 L213 514.2 L214.2 498.5 L215.1 483.8 L216.2 469.6 L217.8 455.5 L219 443.6 L219.8 436.5 L221.3 433 L222.5 428.9 L223.7 433.6 L225.5 436 L226.4 438.9 L227.2 446 L228.4 455.5 L230.2 469.6 L231.4 483.8 L232.8 496.8 L234.5 513 L236.1 529.6 L237.9 544.9 L239.6 556.7 L241.4 567.4 L242.6 575.7 L244.1 582.7 L245.8 587.2 L247.9 589.4 L250.3 590 L252 590.2" fill="none" stroke="#1eb41e" stroke-width="1.6" stroke-linejoin="round"/>
<path d="M56.4 590H62.8" stroke="#1c1c1c" stroke-width="1.3"/>
<text x="52.6" y="591.5" font-size="8.4" text-anchor="end" fill="#1c1c1c" stroke="#1c1c1c" stroke-width="0.2" textLength="4.1" lengthAdjust="spacingAndGlyphs">0</text>
<path d="M56.4 530.5H62.8" stroke="#1c1c1c" stroke-width="1.3"/>
<text x="52.6" y="534" font-size="8.4" text-anchor="end" fill="#1c1c1c" stroke="#1c1c1c" stroke-width="0.2" textLength="12.3" lengthAdjust="spacingAndGlyphs">200</text>
<path d="M56.4 471.1H62.8" stroke="#1c1c1c" stroke-width="1.3"/>
<text x="52.6" y="474.6" font-size="8.4" text-anchor="end" fill="#1c1c1c" stroke="#1c1c1c" stroke-width="0.2" textLength="12.3" lengthAdjust="spacingAndGlyphs">400</text>
<path d="M56.4 411.6H62.8" stroke="#1c1c1c" stroke-width="1.3"/>
<text x="52.6" y="415.1" font-size="8.4" text-anchor="end" fill="#1c1c1c" stroke="#1c1c1c" stroke-width="0.2" textLength="12.3" lengthAdjust="spacingAndGlyphs">600</text>
<path d="M60 575.1H62.8" stroke="#1c1c1c" stroke-width="1"/>
<path d="M60 560.3H62.8" stroke="#1c1c1c" stroke-width="1"/>
<path d="M60 545.4H62.8" stroke="#1c1c1c" stroke-width="1"/>
<path d="M60 515.7H62.8" stroke="#1c1c1c" stroke-width="1"/>
<path d="M60 500.8H62.8" stroke="#1c1c1c" stroke-width="1"/>
<path d="M60 486H62.8" stroke="#1c1c1c" stroke-width="1"/>
<path d="M60 456.2H62.8" stroke="#1c1c1c" stroke-width="1"/>
<path d="M60 441.4H62.8" stroke="#1c1c1c" stroke-width="1"/>
<path d="M60 426.5H62.8" stroke="#1c1c1c" stroke-width="1"/>
<path d="M60 396.8H62.8" stroke="#1c1c1c" stroke-width="1"/>
<path d="M126.1 590.2V596" stroke="#1c1c1c" stroke-width="1.4"/>
<path d="M162.5 590.2V596" stroke="#1c1c1c" stroke-width="1.4"/>
<path d="M197.5 590.2V596" stroke="#1c1c1c" stroke-width="1.4"/>
<path d="M231.9 590.2V596" stroke="#1c1c1c" stroke-width="1.4"/>
<path d="M265.1 590.2V596" stroke="#1c1c1c" stroke-width="1.4"/>
<path d="M137.1 590.2V593.5" stroke="#1c1c1c" stroke-width="0.9"/>
<path d="M143.5 590.2V593.5" stroke="#1c1c1c" stroke-width="0.9"/>
<path d="M148 590.2V593.5" stroke="#1c1c1c" stroke-width="0.9"/>
<path d="M151.5 590.2V593.5" stroke="#1c1c1c" stroke-width="0.9"/>
<path d="M154.4 590.2V593.5" stroke="#1c1c1c" stroke-width="0.9"/>
<path d="M156.9 590.2V593.5" stroke="#1c1c1c" stroke-width="0.9"/>
<path d="M159 590.2V593.5" stroke="#1c1c1c" stroke-width="0.9"/>
<path d="M160.8 590.2V593.5" stroke="#1c1c1c" stroke-width="0.9"/>
<path d="M173 590.2V593.5" stroke="#1c1c1c" stroke-width="0.9"/>
<path d="M179.2 590.2V593.5" stroke="#1c1c1c" stroke-width="0.9"/>
<path d="M183.6 590.2V593.5" stroke="#1c1c1c" stroke-width="0.9"/>
<path d="M187 590.2V593.5" stroke="#1c1c1c" stroke-width="0.9"/>
<path d="M189.7 590.2V593.5" stroke="#1c1c1c" stroke-width="0.9"/>
<path d="M192.1 590.2V593.5" stroke="#1c1c1c" stroke-width="0.9"/>
<path d="M194.1 590.2V593.5" stroke="#1c1c1c" stroke-width="0.9"/>
<path d="M195.9 590.2V593.5" stroke="#1c1c1c" stroke-width="0.9"/>
<path d="M207.9 590.2V593.5" stroke="#1c1c1c" stroke-width="0.9"/>
<path d="M213.9 590.2V593.5" stroke="#1c1c1c" stroke-width="0.9"/>
<path d="M218.2 590.2V593.5" stroke="#1c1c1c" stroke-width="0.9"/>
<path d="M221.5 590.2V593.5" stroke="#1c1c1c" stroke-width="0.9"/>
<path d="M224.3 590.2V593.5" stroke="#1c1c1c" stroke-width="0.9"/>
<path d="M226.6 590.2V593.5" stroke="#1c1c1c" stroke-width="0.9"/>
<path d="M228.6 590.2V593.5" stroke="#1c1c1c" stroke-width="0.9"/>
<path d="M230.3 590.2V593.5" stroke="#1c1c1c" stroke-width="0.9"/>
<path d="M241.9 590.2V593.5" stroke="#1c1c1c" stroke-width="0.9"/>
<path d="M247.7 590.2V593.5" stroke="#1c1c1c" stroke-width="0.9"/>
<path d="M251.9 590.2V593.5" stroke="#1c1c1c" stroke-width="0.9"/>
<path d="M255.1 590.2V593.5" stroke="#1c1c1c" stroke-width="0.9"/>
<path d="M257.7 590.2V593.5" stroke="#1c1c1c" stroke-width="0.9"/>
<path d="M260 590.2V593.5" stroke="#1c1c1c" stroke-width="0.9"/>
<path d="M261.9 590.2V593.5" stroke="#1c1c1c" stroke-width="0.9"/>
<path d="M263.6 590.2V593.5" stroke="#1c1c1c" stroke-width="0.9"/>
<path d="M65.5 590.2V593.5" stroke="#1c1c1c" stroke-width="0.9"/>
<path d="M69.8 590.2V593.5" stroke="#1c1c1c" stroke-width="0.9"/>
<path d="M73.2 590.2V593.5" stroke="#1c1c1c" stroke-width="0.9"/>
<path d="M75.6 590.2V593.5" stroke="#1c1c1c" stroke-width="0.9"/>
<path d="M77.8 590.2V593.5" stroke="#1c1c1c" stroke-width="0.9"/>
<path d="M99.6 590.2V593.5" stroke="#1c1c1c" stroke-width="0.9"/>
<path d="M105.5 590.2V593.5" stroke="#1c1c1c" stroke-width="0.9"/>
<path d="M109.8 590.2V593.5" stroke="#1c1c1c" stroke-width="0.9"/>
<path d="M113.5 590.2V593.5" stroke="#1c1c1c" stroke-width="0.9"/>
<path d="M116 590.2V593.5" stroke="#1c1c1c" stroke-width="0.9"/>
<path d="M118.3 590.2V593.5" stroke="#1c1c1c" stroke-width="0.9"/>
<path d="M120 590.2V593.5" stroke="#1c1c1c" stroke-width="0.9"/>
<path d="M121.7 590.2V593.5" stroke="#1c1c1c" stroke-width="0.9"/>
<path d="M123.2 590.2V593.5" stroke="#1c1c1c" stroke-width="0.9"/>
<path d="M124.6 590.2V593.5" stroke="#1c1c1c" stroke-width="0.9"/>
<rect x="80" y="590.2" width="15" height="3.2" fill="#0a0a0a"/>
<path d="M80.3 590.2V595.8" stroke="#0a0a0a" stroke-width="1.5"/>
<path d="M84 590.2V595.8" stroke="#0a0a0a" stroke-width="1.5"/>
<path d="M86 590.2V595.8" stroke="#0a0a0a" stroke-width="1.5"/>
<path d="M89.3 590.2V595.8" stroke="#0a0a0a" stroke-width="1.5"/>
<path d="M92 590.2V595.8" stroke="#0a0a0a" stroke-width="1.5"/>
<path d="M94.7 590.2V595.8" stroke="#0a0a0a" stroke-width="1.5"/>
<text x="91.9" y="609" font-size="8.4" text-anchor="middle" fill="#1c1c1c" stroke="#1c1c1c" stroke-width="0.2" textLength="4.2" lengthAdjust="spacingAndGlyphs">0</text>
<text x="127.2" y="609.1" font-size="8.4" fill="#1c1c1c" stroke="#1c1c1c" stroke-width="0.2" textLength="7.2" lengthAdjust="spacingAndGlyphs">10</text>
<text x="134.6" y="604.2" font-size="8.2" fill="#1c1c1c" stroke="#1c1c1c" stroke-width="0.2" textLength="3.7" lengthAdjust="spacingAndGlyphs">3</text>
<text x="163.8" y="609.1" font-size="8.4" fill="#1c1c1c" stroke="#1c1c1c" stroke-width="0.2" textLength="7.2" lengthAdjust="spacingAndGlyphs">10</text>
<text x="171.2" y="604.2" font-size="8.2" fill="#1c1c1c" stroke="#1c1c1c" stroke-width="0.2" textLength="3.7" lengthAdjust="spacingAndGlyphs">4</text>
<text x="198.4" y="609.1" font-size="8.4" fill="#1c1c1c" stroke="#1c1c1c" stroke-width="0.2" textLength="7.2" lengthAdjust="spacingAndGlyphs">10</text>
<text x="205.8" y="604.2" font-size="8.2" fill="#1c1c1c" stroke="#1c1c1c" stroke-width="0.2" textLength="3.7" lengthAdjust="spacingAndGlyphs">5</text>
<text x="233" y="609.1" font-size="8.4" fill="#1c1c1c" stroke="#1c1c1c" stroke-width="0.2" textLength="7.2" lengthAdjust="spacingAndGlyphs">10</text>
<text x="240.4" y="604.2" font-size="8.2" fill="#1c1c1c" stroke="#1c1c1c" stroke-width="0.2" textLength="3.7" lengthAdjust="spacingAndGlyphs">6</text>
<text x="260.6" y="609.1" font-size="8.4" fill="#1c1c1c" stroke="#1c1c1c" stroke-width="0.2" textLength="7.2" lengthAdjust="spacingAndGlyphs">10</text>
<text x="268" y="604.2" font-size="8.2" fill="#1c1c1c" stroke="#1c1c1c" stroke-width="0.2" textLength="3.7" lengthAdjust="spacingAndGlyphs">7</text>
<text x="161.1" y="636.6" font-size="14.5" font-weight="bold" text-anchor="middle" fill="#111" textLength="39.6" lengthAdjust="spacingAndGlyphs">FITC-H</text>
<text transform="translate(27 490.9) rotate(-90)" font-size="15.3" font-weight="bold" text-anchor="middle" fill="#111" textLength="40.5" lengthAdjust="spacingAndGlyphs">Count</text>
<text x="268.2" y="357.8" font-size="13.9" text-anchor="end" fill="#1a1a1a" stroke="#1a1a1a" stroke-width="0.2" textLength="126.2" lengthAdjust="spacingAndGlyphs">mNeonGreen-lactC2</text>
<text x="268.2" y="376.2" font-size="13.9" text-anchor="end" fill="#1a1a1a" stroke="#1a1a1a" stroke-width="0.2" textLength="113.2" lengthAdjust="spacingAndGlyphs">activated platelets</text>
<text x="13.1" y="363.6" font-size="23" fill="#111" textLength="13.6" lengthAdjust="spacingAndGlyphs">B</text>
</g>
<g id="panelBR">
<rect x="319.2" y="381.9" width="215.3" height="214.6" fill="none" stroke="#3a3a3a" stroke-width="1.1"/>
<path d="M320.6 596.2 L320.6 595.6 L322 593.4 L325 590 L328 583.8 L331 573.5 L334 562 L337 548 L339.5 535 L342 521 L344 507 L345.3 500 L346.7 487.3 L348.5 474.5 L350.4 463.6 L352.2 454.5 L353.1 441.8 L354.4 430 L355.3 428.2 L356.2 430 L357.6 422.7 L359.5 420.9 L360.4 418.2 L361.6 409.1 L363.1 420 L364.4 413.6 L365.3 411.8 L366.7 417.3 L368 412.7 L369.5 418.2 L370.4 413.6 L371.1 418.2 L371.8 429.1 L372.9 441.8 L374.4 454.5 L375.3 455.5 L376.2 453.6 L377.1 461.8 L378.4 472.7 L379.8 481.8 L381.6 478.2 L382.5 481.8 L383.5 492.7 L384.4 500 L385.6 506 L387 515 L389 525 L391 541 L393.6 559 L396 573 L398 581 L400 588 L402 593 L404.4 595.4 L407 596.2 L407 596.2Z" fill="#fdadad" fill-opacity="1.0" stroke="none"/>
<path d="M320.6 595.6 L322 593.4 L325 590 L328 583.8 L331 573.5 L334 562 L337 548 L339.5 535 L342 521 L344 507 L345.3 500 L346.7 487.3 L348.5 474.5 L350.4 463.6 L352.2 454.5 L353.1 441.8 L354.4 430 L355.3 428.2 L356.2 430 L357.6 422.7 L359.5 420.9 L360.4 418.2 L361.6 409.1 L363.1 420 L364.4 413.6 L365.3 411.8 L366.7 417.3 L368 412.7 L369.5 418.2 L370.4 413.6 L371.1 418.2 L371.8 429.1 L372.9 441.8 L374.4 454.5 L375.3 455.5 L376.2 453.6 L377.1 461.8 L378.4 472.7 L379.8 481.8 L381.6 478.2 L382.5 481.8 L383.5 492.7 L384.4 500 L385.6 506 L387 515 L389 525 L391 541 L393.6 559 L396 573 L398 581 L400 588 L402 593 L404.4 595.4 L407 596.2" fill="none" stroke="#fa4038" stroke-width="1.45" stroke-linejoin="round"/>
<path d="M319.8 596.2 L319.8 389.2 L319.9 480 L320.2 560 L320.6 586 L321.2 591.5 L322 593.6 L325 594.2 L328 594.4 L334 595 L341 595.3 L348 595.5 L358 595.6 L368 595.6 L374 595.3 L378 595 L380 594.2 L382 594.6 L387 594.4 L392 592.6 L396 591 L400 589 L403 587.4 L406 586 L408 585.6 L410 586 L413 584 L416 580 L418 578 L421 575 L425 574.6 L428 571 L431 565 L434 561.4 L437 556 L439 551 L443 544 L445 543 L448 537 L451 527 L454 521 L456 513 L458 503 L459.4 501 L461 504 L463 493 L465 481 L467 467 L468 466 L469.2 469 L470.4 466 L471.6 469.4 L473 459 L474.6 447 L476 443.6 L477.4 449 L478.6 455 L480.4 456 L482 463 L484 471 L486 483 L488 499 L490 513 L492 525 L494 539 L496 553 L498 567 L500 577 L502 584 L505 590 L508 593.2 L512 595.2 L516 596 L522 596.2 L534 596.2 L534 596.2Z" fill="#23b419" fill-opacity="0.44" stroke="none"/>
<path d="M319.8 389.2 L319.9 480 L320.2 560 L320.6 586 L321.2 591.5 L322 593.6 L325 594.2 L328 594.4 L334 595 L341 595.3 L348 595.5 L358 595.6 L368 595.6 L374 595.3 L378 595 L380 594.2 L382 594.6 L387 594.4 L392 592.6 L396 591 L400 589 L403 587.4 L406 586 L408 585.6 L410 586 L413 584 L416 580 L418 578 L421 575 L425 574.6 L428 571 L431 565 L434 561.4 L437 556 L439 551 L443 544 L445 543 L448 537 L451 527 L454 521 L456 513 L458 503 L459.4 501 L461 504 L463 493 L465 481 L467 467 L468 466 L469.2 469 L470.4 466 L471.6 469.4 L473 459 L474.6 447 L476 443.6 L477.4 449 L478.6 455 L480.4 456 L482 463 L484 471 L486 483 L488 499 L490 513 L492 525 L494 539 L496 553 L498 567 L500 577 L502 584 L505 590 L508 593.2 L512 595.2 L516 596 L522 596.2 L534 596.2" fill="none" stroke="#1eb41e" stroke-width="1.7" stroke-linejoin="round"/>
<path d="M312.8 596H319.2" stroke="#1c1c1c" stroke-width="1.3"/>
<text x="309" y="597.5" font-size="8.4" text-anchor="end" fill="#1c1c1c" stroke="#1c1c1c" stroke-width="0.2" textLength="4.1" lengthAdjust="spacingAndGlyphs">0</text>
<path d="M312.8 540H319.2" stroke="#1c1c1c" stroke-width="1.3"/>
<text x="309" y="543.5" font-size="8.4" text-anchor="end" fill="#1c1c1c" stroke="#1c1c1c" stroke-width="0.2" textLength="12.3" lengthAdjust="spacingAndGlyphs">100</text>
<path d="M312.8 484H319.2" stroke="#1c1c1c" stroke-width="1.3"/>
<text x="309" y="487.5" font-size="8.4" text-anchor="end" fill="#1c1c1c" stroke="#1c1c1c" stroke-width="0.2" textLength="12.3" lengthAdjust="spacingAndGlyphs">200</text>
<path d="M312.8 428H319.2" stroke="#1c1c1c" stroke-width="1.3"/>
<text x="309" y="431.5" font-size="8.4" text-anchor="end" fill="#1c1c1c" stroke="#1c1c1c" stroke-width="0.2" textLength="12.3" lengthAdjust="spacingAndGlyphs">300</text>
<path d="M316.4 582H319.2" stroke="#1c1c1c" stroke-width="1"/>
<path d="M316.4 568H319.2" stroke="#1c1c1c" stroke-width="1"/>
<path d="M316.4 554H319.2" stroke="#1c1c1c" stroke-width="1"/>
<path d="M316.4 526H319.2" stroke="#1c1c1c" stroke-width="1"/>
<path d="M316.4 512H319.2" stroke="#1c1c1c" stroke-width="1"/>
<path d="M316.4 498H319.2" stroke="#1c1c1c" stroke-width="1"/>
<path d="M316.4 470H319.2" stroke="#1c1c1c" stroke-width="1"/>
<path d="M316.4 456H319.2" stroke="#1c1c1c" stroke-width="1"/>
<path d="M316.4 442H319.2" stroke="#1c1c1c" stroke-width="1"/>
<path d="M316.4 414H319.2" stroke="#1c1c1c" stroke-width="1"/>
<path d="M316.4 400H319.2" stroke="#1c1c1c" stroke-width="1"/>
<path d="M316.4 386H319.2" stroke="#1c1c1c" stroke-width="1"/>
<path d="M415.6 596.5V602.3" stroke="#1c1c1c" stroke-width="1.4"/>
<path d="M471.6 596.5V602.3" stroke="#1c1c1c" stroke-width="1.4"/>
<path d="M523.8 596.5V602.3" stroke="#1c1c1c" stroke-width="1.4"/>
<path d="M432.5 596.5V599.8" stroke="#1c1c1c" stroke-width="0.9"/>
<path d="M442.3 596.5V599.8" stroke="#1c1c1c" stroke-width="0.9"/>
<path d="M449.3 596.5V599.8" stroke="#1c1c1c" stroke-width="0.9"/>
<path d="M454.7 596.5V599.8" stroke="#1c1c1c" stroke-width="0.9"/>
<path d="M459.2 596.5V599.8" stroke="#1c1c1c" stroke-width="0.9"/>
<path d="M462.9 596.5V599.8" stroke="#1c1c1c" stroke-width="0.9"/>
<path d="M466.2 596.5V599.8" stroke="#1c1c1c" stroke-width="0.9"/>
<path d="M469 596.5V599.8" stroke="#1c1c1c" stroke-width="0.9"/>
<path d="M487.3 596.5V599.8" stroke="#1c1c1c" stroke-width="0.9"/>
<path d="M496.5 596.5V599.8" stroke="#1c1c1c" stroke-width="0.9"/>
<path d="M503 596.5V599.8" stroke="#1c1c1c" stroke-width="0.9"/>
<path d="M508.1 596.5V599.8" stroke="#1c1c1c" stroke-width="0.9"/>
<path d="M512.2 596.5V599.8" stroke="#1c1c1c" stroke-width="0.9"/>
<path d="M515.7 596.5V599.8" stroke="#1c1c1c" stroke-width="0.9"/>
<path d="M518.7 596.5V599.8" stroke="#1c1c1c" stroke-width="0.9"/>
<path d="M521.4 596.5V599.8" stroke="#1c1c1c" stroke-width="0.9"/>
<path d="M323.5 596.5V599.8" stroke="#1c1c1c" stroke-width="0.9"/>
<path d="M330.5 596.5V599.8" stroke="#1c1c1c" stroke-width="0.9"/>
<path d="M335.5 596.5V599.8" stroke="#1c1c1c" stroke-width="0.9"/>
<path d="M338.8 596.5V599.8" stroke="#1c1c1c" stroke-width="0.9"/>
<path d="M341.8 596.5V599.8" stroke="#1c1c1c" stroke-width="0.9"/>
<path d="M344.4 596.5V599.8" stroke="#1c1c1c" stroke-width="0.9"/>
<path d="M372.5 596.5V599.8" stroke="#1c1c1c" stroke-width="0.9"/>
<path d="M379 596.5V599.8" stroke="#1c1c1c" stroke-width="0.9"/>
<path d="M385 596.5V599.8" stroke="#1c1c1c" stroke-width="0.9"/>
<path d="M390.5 596.5V599.8" stroke="#1c1c1c" stroke-width="0.9"/>
<path d="M395.5 596.5V599.8" stroke="#1c1c1c" stroke-width="0.9"/>
<path d="M399.5 596.5V599.8" stroke="#1c1c1c" stroke-width="0.9"/>
<path d="M403 596.5V599.8" stroke="#1c1c1c" stroke-width="0.9"/>
<path d="M406 596.5V599.8" stroke="#1c1c1c" stroke-width="0.9"/>
<path d="M408.8 596.5V599.8" stroke="#1c1c1c" stroke-width="0.9"/>
<path d="M411.2 596.5V599.8" stroke="#1c1c1c" stroke-width="0.9"/>
<path d="M413.4 596.5V599.8" stroke="#1c1c1c" stroke-width="0.9"/>
<rect x="347.1" y="596.5" width="19.7" height="3.2" fill="#0a0a0a"/>
<path d="M347.5 596.5V602.1" stroke="#0a0a0a" stroke-width="1.5"/>
<path d="M352.4 596.5V602.1" stroke="#0a0a0a" stroke-width="1.5"/>
<path d="M355 596.5V602.1" stroke="#0a0a0a" stroke-width="1.5"/>
<path d="M359.3 596.5V602.1" stroke="#0a0a0a" stroke-width="1.5"/>
<path d="M362.9 596.5V602.1" stroke="#0a0a0a" stroke-width="1.5"/>
<path d="M366.4 596.5V602.1" stroke="#0a0a0a" stroke-width="1.5"/>
<text x="361.7" y="615.3" font-size="8.4" text-anchor="middle" fill="#1c1c1c" stroke="#1c1c1c" stroke-width="0.2" textLength="4.2" lengthAdjust="spacingAndGlyphs">0</text>
<text x="416.8" y="615.4" font-size="8.4" fill="#1c1c1c" stroke="#1c1c1c" stroke-width="0.2" textLength="7.2" lengthAdjust="spacingAndGlyphs">10</text>
<text x="424.2" y="610.5" font-size="8.2" fill="#1c1c1c" stroke="#1c1c1c" stroke-width="0.2" textLength="3.7" lengthAdjust="spacingAndGlyphs">3</text>
<text x="472.8" y="615.4" font-size="8.4" fill="#1c1c1c" stroke="#1c1c1c" stroke-width="0.2" textLength="7.2" lengthAdjust="spacingAndGlyphs">10</text>
<text x="480.2" y="610.5" font-size="8.2" fill="#1c1c1c" stroke="#1c1c1c" stroke-width="0.2" textLength="3.7" lengthAdjust="spacingAndGlyphs">4</text>
<text x="521.9" y="615.4" font-size="8.4" fill="#1c1c1c" stroke="#1c1c1c" stroke-width="0.2" textLength="7.2" lengthAdjust="spacingAndGlyphs">10</text>
<text x="529.3" y="610.5" font-size="8.2" fill="#1c1c1c" stroke="#1c1c1c" stroke-width="0.2" textLength="3.7" lengthAdjust="spacingAndGlyphs">5</text>
<text x="420.4" y="636.7" font-size="14.5" font-weight="bold" text-anchor="middle" fill="#111" textLength="40.4" lengthAdjust="spacingAndGlyphs">FITC-H</text>
<text x="534.3" y="354.5" font-size="13.9" text-anchor="end" fill="#1a1a1a" stroke="#1a1a1a" stroke-width="0.2" textLength="125.8" lengthAdjust="spacingAndGlyphs">mNeonGreen-lactC2</text>
<text x="534.3" y="373.3" font-size="13.9" text-anchor="end" fill="#1a1a1a" stroke="#1a1a1a" stroke-width="0.2" textLength="66.2" lengthAdjust="spacingAndGlyphs">Platelet EV</text>
</g>
<g id="panelCL">
<rect x="62.7" y="696.7" width="211.7" height="210.8" fill="none" stroke="#3a3a3a" stroke-width="1.1"/>
<path d="M62.9 907.2 L62.9 906.6 L65 906.7 L67.4 906.5 L71.5 905.4 L75.5 904.3 L79.6 903.8 L82.9 902.3 L87 902.2 L91.1 901.8 L93.6 900.2 L96.8 896.9 L100.1 893.6 L103.4 887.1 L106.6 878.9 L109.1 867.5 L110.7 852.7 L112 836 L113.2 815 L114.3 791.7 L115.6 776.9 L117 762.2 L118.1 744.2 L119.2 729.5 L120.6 718 L121.7 711.8 L123 715.5 L124.6 721.3 L125.8 729.5 L126.3 744.2 L127.1 762.2 L127.9 776.9 L128.7 791.7 L129.9 813 L130.9 836 L132 852.7 L133.2 869.1 L134.5 885.5 L135.6 896.9 L136.6 902.6 L137.7 905.4 L140.2 906.6 L142 907.2 L142 907.2Z" fill="#fdadad" fill-opacity="1.0" stroke="none"/>
<path d="M62.9 906.6 L65 906.7 L67.4 906.5 L71.5 905.4 L75.5 904.3 L79.6 903.8 L82.9 902.3 L87 902.2 L91.1 901.8 L93.6 900.2 L96.8 896.9 L100.1 893.6 L103.4 887.1 L106.6 878.9 L109.1 867.5 L110.7 852.7 L112 836 L113.2 815 L114.3 791.7 L115.6 776.9 L117 762.2 L118.1 744.2 L119.2 729.5 L120.6 718 L121.7 711.8 L123 715.5 L124.6 721.3 L125.8 729.5 L126.3 744.2 L127.1 762.2 L127.9 776.9 L128.7 791.7 L129.9 813 L130.9 836 L132 852.7 L133.2 869.1 L134.5 885.5 L135.6 896.9 L136.6 902.6 L137.7 905.4 L140.2 906.6 L142 907.2" fill="none" stroke="#fa4038" stroke-width="1.45" stroke-linejoin="round"/>
<path d="M119.7 907.2 L119.7 907.2 L124 906.6 L130.4 905.6 L135 905.7 L140 905.8 L144.4 905.5 L150.9 906 L156.4 905.1 L161.8 905.8 L166.2 905.1 L170.5 905.8 L176 905.5 L178.2 904.7 L182.5 906.2 L185.8 905.5 L189.1 902.5 L191.3 896.4 L192.8 887.6 L194.5 874.5 L196.7 854.9 L198.5 837.5 L200 823 L201.1 811.4 L202.1 795 L203.2 778.6 L204.4 762.3 L205.7 747.6 L206.8 734.5 L208 726.3 L209.3 720.5 L210.9 723.3 L212.9 720.9 L213.9 726.3 L214.5 737.7 L215.8 752.5 L217.5 763.9 L218.3 778.6 L219.6 795 L221.1 811.4 L222.6 824 L224 837.5 L226.2 854.9 L228.4 872.4 L230.6 887.6 L232.7 896.4 L234.9 901.8 L237.8 905.5 L241.5 907 L244.7 907.4 L244.7 907.2Z" fill="#00c3f5" fill-opacity="0.38" stroke="none"/>
<path d="M119.7 907.2 L124 906.6 L130.4 905.6 L135 905.7 L140 905.8 L144.4 905.5 L150.9 906 L156.4 905.1 L161.8 905.8 L166.2 905.1 L170.5 905.8 L176 905.5 L178.2 904.7 L182.5 906.2 L185.8 905.5 L189.1 902.5 L191.3 896.4 L192.8 887.6 L194.5 874.5 L196.7 854.9 L198.5 837.5 L200 823 L201.1 811.4 L202.1 795 L203.2 778.6 L204.4 762.3 L205.7 747.6 L206.8 734.5 L208 726.3 L209.3 720.5 L210.9 723.3 L212.9 720.9 L213.9 726.3 L214.5 737.7 L215.8 752.5 L217.5 763.9 L218.3 778.6 L219.6 795 L221.1 811.4 L222.6 824 L224 837.5 L226.2 854.9 L228.4 872.4 L230.6 887.6 L232.7 896.4 L234.9 901.8 L237.8 905.5 L241.5 907 L244.7 907.4" fill="none" stroke="#14c3f5" stroke-width="1.6" stroke-linejoin="round"/>
<path d="M56.3 906.8H62.7" stroke="#1c1c1c" stroke-width="1.3"/>
<text x="52.5" y="908.3" font-size="8.4" text-anchor="end" fill="#1c1c1c" stroke="#1c1c1c" stroke-width="0.2" textLength="4.1" lengthAdjust="spacingAndGlyphs">0</text>
<path d="M56.3 847H62.7" stroke="#1c1c1c" stroke-width="1.3"/>
<text x="52.5" y="850.5" font-size="8.4" text-anchor="end" fill="#1c1c1c" stroke="#1c1c1c" stroke-width="0.2" textLength="12.3" lengthAdjust="spacingAndGlyphs">200</text>
<path d="M56.3 787.2H62.7" stroke="#1c1c1c" stroke-width="1.3"/>
<text x="52.5" y="790.7" font-size="8.4" text-anchor="end" fill="#1c1c1c" stroke="#1c1c1c" stroke-width="0.2" textLength="12.3" lengthAdjust="spacingAndGlyphs">400</text>
<path d="M56.3 727.4H62.7" stroke="#1c1c1c" stroke-width="1.3"/>
<text x="52.5" y="730.9" font-size="8.4" text-anchor="end" fill="#1c1c1c" stroke="#1c1c1c" stroke-width="0.2" textLength="12.3" lengthAdjust="spacingAndGlyphs">600</text>
<path d="M59.9 891.8H62.7" stroke="#1c1c1c" stroke-width="1"/>
<path d="M59.9 876.9H62.7" stroke="#1c1c1c" stroke-width="1"/>
<path d="M59.9 861.9H62.7" stroke="#1c1c1c" stroke-width="1"/>
<path d="M59.9 832H62.7" stroke="#1c1c1c" stroke-width="1"/>
<path d="M59.9 817.1H62.7" stroke="#1c1c1c" stroke-width="1"/>
<path d="M59.9 802.1H62.7" stroke="#1c1c1c" stroke-width="1"/>
<path d="M59.9 772.2H62.7" stroke="#1c1c1c" stroke-width="1"/>
<path d="M59.9 757.3H62.7" stroke="#1c1c1c" stroke-width="1"/>
<path d="M59.9 742.3H62.7" stroke="#1c1c1c" stroke-width="1"/>
<path d="M59.9 712.4H62.7" stroke="#1c1c1c" stroke-width="1"/>
<path d="M126.5 907.5V913.3" stroke="#1c1c1c" stroke-width="1.4"/>
<path d="M163.8 907.5V913.3" stroke="#1c1c1c" stroke-width="1.4"/>
<path d="M198.2 907.5V913.3" stroke="#1c1c1c" stroke-width="1.4"/>
<path d="M232.9 907.5V913.3" stroke="#1c1c1c" stroke-width="1.4"/>
<path d="M266.9 907.5V913.3" stroke="#1c1c1c" stroke-width="1.4"/>
<path d="M137.7 907.5V910.8" stroke="#1c1c1c" stroke-width="0.9"/>
<path d="M144.3 907.5V910.8" stroke="#1c1c1c" stroke-width="0.9"/>
<path d="M149 907.5V910.8" stroke="#1c1c1c" stroke-width="0.9"/>
<path d="M152.6 907.5V910.8" stroke="#1c1c1c" stroke-width="0.9"/>
<path d="M155.5 907.5V910.8" stroke="#1c1c1c" stroke-width="0.9"/>
<path d="M158 907.5V910.8" stroke="#1c1c1c" stroke-width="0.9"/>
<path d="M160.2 907.5V910.8" stroke="#1c1c1c" stroke-width="0.9"/>
<path d="M162.1 907.5V910.8" stroke="#1c1c1c" stroke-width="0.9"/>
<path d="M174.2 907.5V910.8" stroke="#1c1c1c" stroke-width="0.9"/>
<path d="M180.2 907.5V910.8" stroke="#1c1c1c" stroke-width="0.9"/>
<path d="M184.5 907.5V910.8" stroke="#1c1c1c" stroke-width="0.9"/>
<path d="M187.8 907.5V910.8" stroke="#1c1c1c" stroke-width="0.9"/>
<path d="M190.6 907.5V910.8" stroke="#1c1c1c" stroke-width="0.9"/>
<path d="M192.9 907.5V910.8" stroke="#1c1c1c" stroke-width="0.9"/>
<path d="M194.9 907.5V910.8" stroke="#1c1c1c" stroke-width="0.9"/>
<path d="M196.6 907.5V910.8" stroke="#1c1c1c" stroke-width="0.9"/>
<path d="M208.6 907.5V910.8" stroke="#1c1c1c" stroke-width="0.9"/>
<path d="M214.8 907.5V910.8" stroke="#1c1c1c" stroke-width="0.9"/>
<path d="M219.1 907.5V910.8" stroke="#1c1c1c" stroke-width="0.9"/>
<path d="M222.5 907.5V910.8" stroke="#1c1c1c" stroke-width="0.9"/>
<path d="M225.2 907.5V910.8" stroke="#1c1c1c" stroke-width="0.9"/>
<path d="M227.5 907.5V910.8" stroke="#1c1c1c" stroke-width="0.9"/>
<path d="M229.5 907.5V910.8" stroke="#1c1c1c" stroke-width="0.9"/>
<path d="M231.3 907.5V910.8" stroke="#1c1c1c" stroke-width="0.9"/>
<path d="M243.1 907.5V910.8" stroke="#1c1c1c" stroke-width="0.9"/>
<path d="M249.1 907.5V910.8" stroke="#1c1c1c" stroke-width="0.9"/>
<path d="M253.4 907.5V910.8" stroke="#1c1c1c" stroke-width="0.9"/>
<path d="M256.7 907.5V910.8" stroke="#1c1c1c" stroke-width="0.9"/>
<path d="M259.4 907.5V910.8" stroke="#1c1c1c" stroke-width="0.9"/>
<path d="M261.6 907.5V910.8" stroke="#1c1c1c" stroke-width="0.9"/>
<path d="M263.6 907.5V910.8" stroke="#1c1c1c" stroke-width="0.9"/>
<path d="M265.3 907.5V910.8" stroke="#1c1c1c" stroke-width="0.9"/>
<path d="M65.5 907.5V910.8" stroke="#1c1c1c" stroke-width="0.9"/>
<path d="M69.5 907.5V910.8" stroke="#1c1c1c" stroke-width="0.9"/>
<path d="M73.3 907.5V910.8" stroke="#1c1c1c" stroke-width="0.9"/>
<path d="M76.9 907.5V910.8" stroke="#1c1c1c" stroke-width="0.9"/>
<path d="M78.8 907.5V910.8" stroke="#1c1c1c" stroke-width="0.9"/>
<path d="M99.6 907.5V910.8" stroke="#1c1c1c" stroke-width="0.9"/>
<path d="M105.5 907.5V910.8" stroke="#1c1c1c" stroke-width="0.9"/>
<path d="M109.8 907.5V910.8" stroke="#1c1c1c" stroke-width="0.9"/>
<path d="M113.5 907.5V910.8" stroke="#1c1c1c" stroke-width="0.9"/>
<path d="M116 907.5V910.8" stroke="#1c1c1c" stroke-width="0.9"/>
<path d="M118.3 907.5V910.8" stroke="#1c1c1c" stroke-width="0.9"/>
<path d="M120 907.5V910.8" stroke="#1c1c1c" stroke-width="0.9"/>
<path d="M121.7 907.5V910.8" stroke="#1c1c1c" stroke-width="0.9"/>
<path d="M123.2 907.5V910.8" stroke="#1c1c1c" stroke-width="0.9"/>
<path d="M124.8 907.5V910.8" stroke="#1c1c1c" stroke-width="0.9"/>
<rect x="80.5" y="907.5" width="14.3" height="3.2" fill="#0a0a0a"/>
<path d="M80.8 907.5V913.1" stroke="#0a0a0a" stroke-width="1.5"/>
<path d="M84.4 907.5V913.1" stroke="#0a0a0a" stroke-width="1.5"/>
<path d="M86.2 907.5V913.1" stroke="#0a0a0a" stroke-width="1.5"/>
<path d="M89.4 907.5V913.1" stroke="#0a0a0a" stroke-width="1.5"/>
<path d="M91.9 907.5V913.1" stroke="#0a0a0a" stroke-width="1.5"/>
<path d="M94.5 907.5V913.1" stroke="#0a0a0a" stroke-width="1.5"/>
<text x="92" y="926.3" font-size="8.4" text-anchor="middle" fill="#1c1c1c" stroke="#1c1c1c" stroke-width="0.2" textLength="4.2" lengthAdjust="spacingAndGlyphs">0</text>
<text x="127.6" y="926.4" font-size="8.4" fill="#1c1c1c" stroke="#1c1c1c" stroke-width="0.2" textLength="7.2" lengthAdjust="spacingAndGlyphs">10</text>
<text x="135" y="921.5" font-size="8.2" fill="#1c1c1c" stroke="#1c1c1c" stroke-width="0.2" textLength="3.7" lengthAdjust="spacingAndGlyphs">3</text>
<text x="165" y="926.4" font-size="8.4" fill="#1c1c1c" stroke="#1c1c1c" stroke-width="0.2" textLength="7.2" lengthAdjust="spacingAndGlyphs">10</text>
<text x="172.4" y="921.5" font-size="8.2" fill="#1c1c1c" stroke="#1c1c1c" stroke-width="0.2" textLength="3.7" lengthAdjust="spacingAndGlyphs">4</text>
<text x="199.5" y="926.4" font-size="8.4" fill="#1c1c1c" stroke="#1c1c1c" stroke-width="0.2" textLength="7.2" lengthAdjust="spacingAndGlyphs">10</text>
<text x="206.9" y="921.5" font-size="8.2" fill="#1c1c1c" stroke="#1c1c1c" stroke-width="0.2" textLength="3.7" lengthAdjust="spacingAndGlyphs">5</text>
<text x="234.2" y="926.4" font-size="8.4" fill="#1c1c1c" stroke="#1c1c1c" stroke-width="0.2" textLength="7.2" lengthAdjust="spacingAndGlyphs">10</text>
<text x="241.6" y="921.5" font-size="8.2" fill="#1c1c1c" stroke="#1c1c1c" stroke-width="0.2" textLength="3.7" lengthAdjust="spacingAndGlyphs">6</text>
<text x="262" y="926.4" font-size="8.4" fill="#1c1c1c" stroke="#1c1c1c" stroke-width="0.2" textLength="7.2" lengthAdjust="spacingAndGlyphs">10</text>
<text x="269.4" y="921.5" font-size="8.2" fill="#1c1c1c" stroke="#1c1c1c" stroke-width="0.2" textLength="3.7" lengthAdjust="spacingAndGlyphs">7</text>
<text x="160" y="951.5" font-size="14.5" font-weight="bold" text-anchor="middle" fill="#111" textLength="83.6" lengthAdjust="spacingAndGlyphs">PacificBlue-H</text>
<text transform="translate(27 804) rotate(-90)" font-size="15.3" font-weight="bold" text-anchor="middle" fill="#111" textLength="40.5" lengthAdjust="spacingAndGlyphs">Count</text>
<text x="268.2" y="667.7" font-size="13.9" text-anchor="end" fill="#1a1a1a" stroke="#1a1a1a" stroke-width="0.2" textLength="86.6" lengthAdjust="spacingAndGlyphs">TagBFP-lactC2</text>
<text x="268.2" y="684" font-size="13.9" text-anchor="end" fill="#1a1a1a" stroke="#1a1a1a" stroke-width="0.2" textLength="113.2" lengthAdjust="spacingAndGlyphs">activated platelets</text>
<text x="12.6" y="678.8" font-size="23" fill="#111" textLength="14.4" lengthAdjust="spacingAndGlyphs">C</text>
</g>
<g id="panelCR">
<rect x="321" y="696.7" width="215" height="215" fill="none" stroke="#3a3a3a" stroke-width="1.1"/>
<path d="M323.4 911.4 L323.4 908 L324 905 L326 905.6 L330 903.6 L334 901.6 L337 902.4 L340 901 L343 897.6 L345 898 L347.6 901 L351 898.4 L355 895 L358 894.4 L360.6 891 L362.4 893 L365 892 L368 888 L372 884 L375 880 L378 877 L381 874 L383 867 L385 860 L387 852 L389 846 L391 840 L393 828 L394.4 820 L396.4 808 L398 790 L399.6 772 L401 756 L402.4 740 L403.6 726 L405 714 L406.4 710 L407.6 715.6 L408.6 711 L409.4 716 L410.6 710.4 L411.6 718 L413 730 L414.4 744 L416 760 L418 780 L419.6 797 L421 815 L422.4 835 L424 855 L425.6 873 L427 885 L428.4 895 L430 903 L432 908 L435 911 L437 911.5 L437 911.4Z" fill="#fdadad" fill-opacity="1.0" stroke="none"/>
<path d="M323.4 908 L324 905 L326 905.6 L330 903.6 L334 901.6 L337 902.4 L340 901 L343 897.6 L345 898 L347.6 901 L351 898.4 L355 895 L358 894.4 L360.6 891 L362.4 893 L365 892 L368 888 L372 884 L375 880 L378 877 L381 874 L383 867 L385 860 L387 852 L389 846 L391 840 L393 828 L394.4 820 L396.4 808 L398 790 L399.6 772 L401 756 L402.4 740 L403.6 726 L405 714 L406.4 710 L407.6 715.6 L408.6 711 L409.4 716 L410.6 710.4 L411.6 718 L413 730 L414.4 744 L416 760 L418 780 L419.6 797 L421 815 L422.4 835 L424 855 L425.6 873 L427 885 L428.4 895 L430 903 L432 908 L435 911 L437 911.5" fill="none" stroke="#fa4038" stroke-width="1.45" stroke-linejoin="round"/>
<path d="M321.2 911.4 L321.2 864 L321.6 880 L322.4 900 L323.6 909.6 L326 910.8 L338 911 L358 911 L378 910.6 L386 910 L392 909 L398 907 L404 905 L409 902 L412 900 L415 899 L418 897 L421 893.5 L424 889 L426.4 883.6 L428 881 L431 879 L433 877 L435.6 870 L437 865 L439 865 L441 858 L443 851 L446 843 L448 836 L450 833 L452 823 L454 815 L456 811 L458 799 L460 785 L461.6 767 L462.6 762 L464 760 L465.2 766 L466.6 759 L468 755.4 L469.4 758 L470.6 757 L472 758.6 L473 769 L474.4 785 L476 803 L478 804 L479 813 L480.4 825 L482 839 L484 853 L486 865 L488 875 L490 885 L492 893 L495 901 L498 906 L502 909.2 L506 910.8 L511 911.2 L511 911.4Z" fill="#00c3f5" fill-opacity="0.38" stroke="none"/>
<path d="M321.2 864 L321.6 880 L322.4 900 L323.6 909.6 L326 910.8 L338 911 L358 911 L378 910.6 L386 910 L392 909 L398 907 L404 905 L409 902 L412 900 L415 899 L418 897 L421 893.5 L424 889 L426.4 883.6 L428 881 L431 879 L433 877 L435.6 870 L437 865 L439 865 L441 858 L443 851 L446 843 L448 836 L450 833 L452 823 L454 815 L456 811 L458 799 L460 785 L461.6 767 L462.6 762 L464 760 L465.2 766 L466.6 759 L468 755.4 L469.4 758 L470.6 757 L472 758.6 L473 769 L474.4 785 L476 803 L478 804 L479 813 L480.4 825 L482 839 L484 853 L486 865 L488 875 L490 885 L492 893 L495 901 L498 906 L502 909.2 L506 910.8 L511 911.2" fill="none" stroke="#14c3f5" stroke-width="1.7" stroke-linejoin="round"/>
<path d="M314.6 911H321" stroke="#1c1c1c" stroke-width="1.3"/>
<text x="310.8" y="912.5" font-size="8.4" text-anchor="end" fill="#1c1c1c" stroke="#1c1c1c" stroke-width="0.2" textLength="4.1" lengthAdjust="spacingAndGlyphs">0</text>
<path d="M314.6 861.6H321" stroke="#1c1c1c" stroke-width="1.3"/>
<text x="310.8" y="865.1" font-size="8.4" text-anchor="end" fill="#1c1c1c" stroke="#1c1c1c" stroke-width="0.2" textLength="12.3" lengthAdjust="spacingAndGlyphs">100</text>
<path d="M314.6 812.2H321" stroke="#1c1c1c" stroke-width="1.3"/>
<text x="310.8" y="815.7" font-size="8.4" text-anchor="end" fill="#1c1c1c" stroke="#1c1c1c" stroke-width="0.2" textLength="12.3" lengthAdjust="spacingAndGlyphs">200</text>
<path d="M314.6 762.8H321" stroke="#1c1c1c" stroke-width="1.3"/>
<text x="310.8" y="766.3" font-size="8.4" text-anchor="end" fill="#1c1c1c" stroke="#1c1c1c" stroke-width="0.2" textLength="12.3" lengthAdjust="spacingAndGlyphs">300</text>
<path d="M314.6 713.4H321" stroke="#1c1c1c" stroke-width="1.3"/>
<text x="310.8" y="716.9" font-size="8.4" text-anchor="end" fill="#1c1c1c" stroke="#1c1c1c" stroke-width="0.2" textLength="12.3" lengthAdjust="spacingAndGlyphs">400</text>
<path d="M318.2 898.6H321" stroke="#1c1c1c" stroke-width="1"/>
<path d="M318.2 886.3H321" stroke="#1c1c1c" stroke-width="1"/>
<path d="M318.2 874H321" stroke="#1c1c1c" stroke-width="1"/>
<path d="M318.2 849.2H321" stroke="#1c1c1c" stroke-width="1"/>
<path d="M318.2 836.9H321" stroke="#1c1c1c" stroke-width="1"/>
<path d="M318.2 824.5H321" stroke="#1c1c1c" stroke-width="1"/>
<path d="M318.2 799.9H321" stroke="#1c1c1c" stroke-width="1"/>
<path d="M318.2 787.5H321" stroke="#1c1c1c" stroke-width="1"/>
<path d="M318.2 775.1H321" stroke="#1c1c1c" stroke-width="1"/>
<path d="M318.2 750.5H321" stroke="#1c1c1c" stroke-width="1"/>
<path d="M318.2 738.1H321" stroke="#1c1c1c" stroke-width="1"/>
<path d="M318.2 725.8H321" stroke="#1c1c1c" stroke-width="1"/>
<path d="M318.2 701H321" stroke="#1c1c1c" stroke-width="1"/>
<path d="M417.4 911.7V917.5" stroke="#1c1c1c" stroke-width="1.4"/>
<path d="M473.4 911.7V917.5" stroke="#1c1c1c" stroke-width="1.4"/>
<path d="M525.8 911.7V917.5" stroke="#1c1c1c" stroke-width="1.4"/>
<path d="M434.3 911.7V915" stroke="#1c1c1c" stroke-width="0.9"/>
<path d="M444.1 911.7V915" stroke="#1c1c1c" stroke-width="0.9"/>
<path d="M451.1 911.7V915" stroke="#1c1c1c" stroke-width="0.9"/>
<path d="M456.5 911.7V915" stroke="#1c1c1c" stroke-width="0.9"/>
<path d="M461 911.7V915" stroke="#1c1c1c" stroke-width="0.9"/>
<path d="M464.7 911.7V915" stroke="#1c1c1c" stroke-width="0.9"/>
<path d="M468 911.7V915" stroke="#1c1c1c" stroke-width="0.9"/>
<path d="M470.8 911.7V915" stroke="#1c1c1c" stroke-width="0.9"/>
<path d="M489.2 911.7V915" stroke="#1c1c1c" stroke-width="0.9"/>
<path d="M498.4 911.7V915" stroke="#1c1c1c" stroke-width="0.9"/>
<path d="M504.9 911.7V915" stroke="#1c1c1c" stroke-width="0.9"/>
<path d="M510 911.7V915" stroke="#1c1c1c" stroke-width="0.9"/>
<path d="M514.2 911.7V915" stroke="#1c1c1c" stroke-width="0.9"/>
<path d="M517.7 911.7V915" stroke="#1c1c1c" stroke-width="0.9"/>
<path d="M520.7 911.7V915" stroke="#1c1c1c" stroke-width="0.9"/>
<path d="M523.4 911.7V915" stroke="#1c1c1c" stroke-width="0.9"/>
<path d="M325.5 911.7V915" stroke="#1c1c1c" stroke-width="0.9"/>
<path d="M332.5 911.7V915" stroke="#1c1c1c" stroke-width="0.9"/>
<path d="M337.5 911.7V915" stroke="#1c1c1c" stroke-width="0.9"/>
<path d="M341 911.7V915" stroke="#1c1c1c" stroke-width="0.9"/>
<path d="M344 911.7V915" stroke="#1c1c1c" stroke-width="0.9"/>
<path d="M346.6 911.7V915" stroke="#1c1c1c" stroke-width="0.9"/>
<path d="M373.5 911.7V915" stroke="#1c1c1c" stroke-width="0.9"/>
<path d="M380 911.7V915" stroke="#1c1c1c" stroke-width="0.9"/>
<path d="M386 911.7V915" stroke="#1c1c1c" stroke-width="0.9"/>
<path d="M391.5 911.7V915" stroke="#1c1c1c" stroke-width="0.9"/>
<path d="M396.5 911.7V915" stroke="#1c1c1c" stroke-width="0.9"/>
<path d="M400.5 911.7V915" stroke="#1c1c1c" stroke-width="0.9"/>
<path d="M404 911.7V915" stroke="#1c1c1c" stroke-width="0.9"/>
<path d="M407.5 911.7V915" stroke="#1c1c1c" stroke-width="0.9"/>
<path d="M410.5 911.7V915" stroke="#1c1c1c" stroke-width="0.9"/>
<path d="M413 911.7V915" stroke="#1c1c1c" stroke-width="0.9"/>
<path d="M415.3 911.7V915" stroke="#1c1c1c" stroke-width="0.9"/>
<rect x="349.4" y="911.7" width="19.6" height="3.2" fill="#0a0a0a"/>
<path d="M349.8 911.7V917.3" stroke="#0a0a0a" stroke-width="1.5"/>
<path d="M354.7 911.7V917.3" stroke="#0a0a0a" stroke-width="1.5"/>
<path d="M357.2 911.7V917.3" stroke="#0a0a0a" stroke-width="1.5"/>
<path d="M361.6 911.7V917.3" stroke="#0a0a0a" stroke-width="1.5"/>
<path d="M365.1 911.7V917.3" stroke="#0a0a0a" stroke-width="1.5"/>
<path d="M368.6 911.7V917.3" stroke="#0a0a0a" stroke-width="1.5"/>
<text x="363.3" y="930.5" font-size="8.4" text-anchor="middle" fill="#1c1c1c" stroke="#1c1c1c" stroke-width="0.2" textLength="4.2" lengthAdjust="spacingAndGlyphs">0</text>
<text x="418.6" y="930.6" font-size="8.4" fill="#1c1c1c" stroke="#1c1c1c" stroke-width="0.2" textLength="7.2" lengthAdjust="spacingAndGlyphs">10</text>
<text x="426" y="925.7" font-size="8.2" fill="#1c1c1c" stroke="#1c1c1c" stroke-width="0.2" textLength="3.7" lengthAdjust="spacingAndGlyphs">3</text>
<text x="474.7" y="930.6" font-size="8.4" fill="#1c1c1c" stroke="#1c1c1c" stroke-width="0.2" textLength="7.2" lengthAdjust="spacingAndGlyphs">10</text>
<text x="482.1" y="925.7" font-size="8.2" fill="#1c1c1c" stroke="#1c1c1c" stroke-width="0.2" textLength="3.7" lengthAdjust="spacingAndGlyphs">4</text>
<text x="524.2" y="930.6" font-size="8.4" fill="#1c1c1c" stroke="#1c1c1c" stroke-width="0.2" textLength="7.2" lengthAdjust="spacingAndGlyphs">10</text>
<text x="531.6" y="925.7" font-size="8.2" fill="#1c1c1c" stroke="#1c1c1c" stroke-width="0.2" textLength="3.7" lengthAdjust="spacingAndGlyphs">5</text>
<text x="419.1" y="951.5" font-size="14.5" font-weight="bold" text-anchor="middle" fill="#111" textLength="83.8" lengthAdjust="spacingAndGlyphs">PacificBlue-H</text>
<text x="534.3" y="666.8" font-size="13.9" text-anchor="end" fill="#1a1a1a" stroke="#1a1a1a" stroke-width="0.2" textLength="86.4" lengthAdjust="spacingAndGlyphs">TagBFP-lactC2</text>
<text x="534.3" y="684.4" font-size="13.9" text-anchor="end" fill="#1a1a1a" stroke="#1a1a1a" stroke-width="0.2" textLength="66.2" lengthAdjust="spacingAndGlyphs">Platelet EV</text>
</g>
</svg></body></html>
